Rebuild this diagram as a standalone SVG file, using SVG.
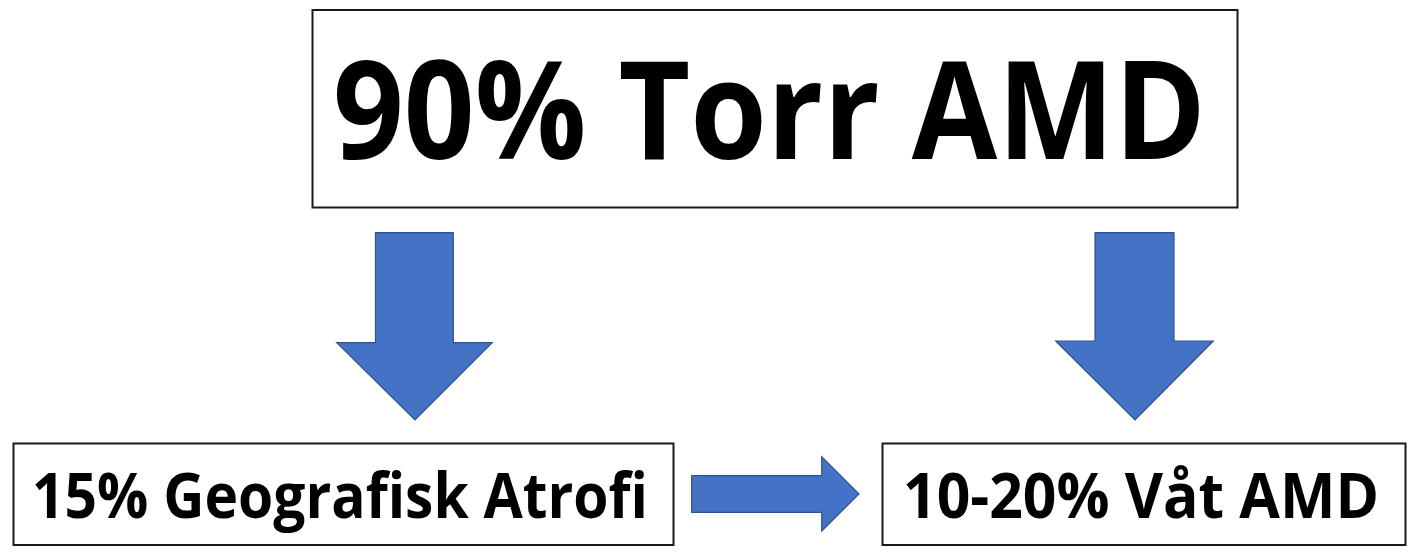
<svg xmlns="http://www.w3.org/2000/svg" width="1422" height="552" viewBox="0 0 1422 552">
<style>
.box{fill:#ffffff;stroke:#1a1a1a;stroke-width:2}
.arrow{fill:#4472C4;stroke:#2F528F;stroke-width:1.2}
.lbl{font-family:"Open Sans","Liberation Sans",sans-serif;font-weight:bold;fill:#000000}
</style>
<rect width="1422" height="552" fill="#ffffff"/>
<g id="node-torr">
<rect class="box" x="312.5" y="10" width="925" height="197.5"/>
<text class="lbl" x="333" y="158.5" font-size="136" textLength="873" lengthAdjust="spacingAndGlyphs">90% Torr AMD</text>
</g>
<g id="node-geo">
<rect class="box" x="13.5" y="443.5" width="660" height="101.5"/>
<text class="lbl" x="32" y="517.5" font-size="62" textLength="616" lengthAdjust="spacingAndGlyphs">15% Geografisk Atrofi</text>
</g>
<g id="node-vat">
<rect class="box" x="882.5" y="443.5" width="523" height="101.5"/>
<text class="lbl" x="903" y="517.5" font-size="62" textLength="476" lengthAdjust="spacingAndGlyphs">10-20% Våt AMD</text>
</g>
<g id="connectors">
<polygon class="arrow" points="375.5,232.7 453.3,232.7 453.3,342.7 492.3,342.7 415,420 336.7,342.7 375.5,342.7"/>
<polygon class="arrow" points="1095,232.7 1174,232.7 1174,341 1213.3,341 1135,420 1055.7,341 1095,341"/>
<polygon class="arrow" points="691.7,475.7 821.7,475.7 821.7,456.7 859,494 821.7,531 821.7,512.3 691.7,512.3"/>
</g>
</svg>
